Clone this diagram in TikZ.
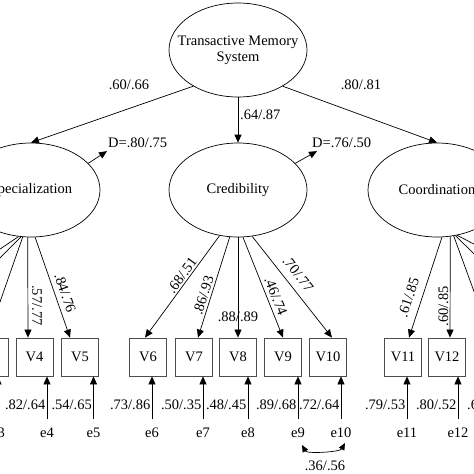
\documentclass[tikz,border=0pt]{standalone}
\usepackage{fontspec}
\setmainfont{Liberation Serif}
\usetikzlibrary{arrows.meta,shapes.geometric}
\begin{document}
\begin{tikzpicture}[x=1pt,y=-1pt,
  every node/.style={font=\fontsize{14.5}{16}\selectfont},
  lat/.style={draw, ellipse, minimum width=138pt, minimum height=94pt, inner sep=0pt, line width=0.7pt},
  obs/.style={draw=black!70, minimum width=37pt, minimum height=38pt, inner sep=0pt, line width=0.8pt},
  err/.style={minimum height=28pt, inner sep=0pt},
  arr/.style={line width=0.7pt, -{Triangle[length=8pt,width=7pt]}},
  lab/.style={inner sep=0pt},
  ld/.style={sloped, above, inner sep=#1},
]
\useasboundingbox (0,0) rectangle (474,474);
\clip (0,0) rectangle (474,474);

% latent variables
\node[lat, label={[align=center, inner sep=0pt]center:Transactive Memory\\System}] (tms) at (238,50) {};
\node[lat, label={[inner sep=0pt]center:Specialization}] (spec) at (31,190) {};
\node[lat, label={[inner sep=0pt]center:Credibility}] (cred) at (238,190) {};
\node[lat, label={[inner sep=0pt]center:Coordination}] (coord) at (437,190) {};

% observed variables
\foreach \n/\x in {3/-10.5,4/34.5,5/80,6/148,7/194,8/238,9/283,10/328,11/403,12/447}
  \node[obs] (V\n) at (\x,357) {V\n};

% hidden indicator tops (outside the picture)
\coordinate (V1t) at (-132,338);
\coordinate (V2t) at (-80,338);
\coordinate (V13t) at (491,338);
\coordinate (V14t) at (560,338);
\coordinate (V15t) at (654,338);

% error terms
\foreach \n/\x in {3/-2,4/47,5/93.5,6/152,7/203,8/248,9/298,10/341,11/407,12/458}
  \node[err] (e\n) at (\x,433) {e\n};
\foreach \n in {3,4,...,12}
  \draw[arr] (e\n.north) -- (e\n.north |- V\n.south);

% error loadings
\foreach \n/\t in {4/{.82/.64},5/{.54/.65},6/{.73/.86},7/{.50/.35},8/{.48/.45},9/{.89/.68},10/{.72/.64},11/{.79/.53},12/{.80/.52}}
  \node[lab, anchor=east] (l\n) at ([xshift=-1.5pt,yshift=28pt]e\n.center) {\t};
\node[lab, anchor=west] (l13) at (467,405) {.6};

% second-order paths
\draw[arr] (tms.-141) -- (spec.north);
\draw[arr] (tms.south) -- (cred.north);
\draw[arr] (tms.-39) -- (coord.north);
\node (t1) at (129,85) {.60/.66};
\node[anchor=west, inner sep=1pt] (t2) at (239,115) {.64/.87};
\node (t3) at (361,85) {.80/.81};

% disturbances
\node[lab, anchor=west] (d1) at (108,143) {D=.80/.75};
\node[lab, anchor=west] (d2) at (312,143) {D=.76/.50};
\draw[arr] (spec.25) -- ([xshift=-1pt,yshift=-3pt]d1.south west);
\draw[arr] (cred.25) -- ([xshift=5pt,yshift=-3pt]d2.south west);

% Specialization loadings
\draw[arr] (spec.-105) -- (V1t);
\draw[arr] (spec.-102) -- (V2t);
\draw[arr] (spec.-100) -- ([xshift=-2pt]V3.north);
\draw[arr] (spec.-94) -- node[pos=0.68, rotate=-90, anchor=south, inner sep=4pt] {.57/.77} ([xshift=-6.5pt]V4.north);
\draw[arr] (spec.-85) -- node[ld=4.8pt, pos=0.59] {.84/.76} ([xshift=-10pt]V5.north);

% Credibility loadings
\draw[arr] (cred.-112) -- node[ld=1.5pt, pos=0.43] {.68/.51} ([xshift=-3pt]V6.north);
\draw[arr] (cred.-100) -- node[ld=2.3pt, pos=0.6] {.86/.93} ([xshift=4pt]V7.north);
\draw[arr] (cred.-90) -- node[pos=0.79, inner sep=0pt] {.88/.89} (V8.north);
\draw[arr] (cred.-84) -- node[ld=3.4pt, pos=0.62] {.46/.74} (V9.north);
\draw[arr] (cred.-73) -- node[ld=7.5pt, pos=0.45] {.70/.77} ([xshift=4pt]V10.north);

% Coordination loadings
\draw[arr] (coord.-84) -- node[ld=7.6pt, pos=0.64] {.61/.85} ([xshift=6pt]V11.north);
\draw[arr] (coord.-74) -- node[pos=0.69, rotate=90, anchor=south, inner sep=1.5pt] {.60/.85} ([xshift=3pt]V12.north);
\draw[arr] (coord.-70) -- (V13t);
\draw[arr] (coord.-68) -- (V14t);
\draw[arr] (coord.-66) -- (V15t);

% error covariance
\draw[line width=0.7pt, {Triangle[length=7pt,width=6pt]}-{Triangle[length=7pt,width=6pt]}]
  ([xshift=4pt,yshift=-12pt]e9.center) .. controls ([xshift=9pt,yshift=-21pt]e9.center) and ([xshift=-1pt,yshift=-19pt]e10.center) .. ([xshift=4pt,yshift=-10pt]e10.center);
\node (r910) at (325,466) {.36/.56};
\end{tikzpicture}
\end{document}
